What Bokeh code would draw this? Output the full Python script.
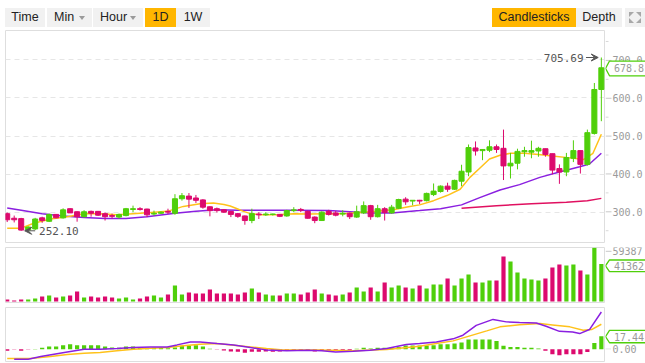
from bokeh.plotting import figure
from bokeh.layouts import column, row
from bokeh.models import ColumnDataSource, Range1d, Div, Label, Arrow, VeeHead
from bokeh.embed import file_html
from bokeh.resources import INLINE
from bokeh.core.properties import value

GREEN = "#4fcf0a"
PINK = "#dc0a6e"
YELLOW = "#ffc21a"
PURPLE = "#8a1fe0"
CRIMSON = "#e01060"
AXIS_TXT = "#9a9a9a"
MONO = "DejaVu Sans Mono"
W = 645
LEFT_B = 5
AX_W = 40
PLOT_W = W - LEFT_B - AX_W

# ---------------- data ----------------
opens = [297, 285, 284, 254, 257, 286, 277, 295, 286, 310, 302, 289, 303, 303, 297, 292, 288, 292, 308, 310,
         309, 296, 298, 303, 298, 336, 343, 338, 333, 315, 310, 307, 303, 297, 291, 279, 296, 294, 295, 295,
         291, 305, 308, 303, 288, 279, 303, 299, 296, 298, 288, 299, 318, 289, 310, 299, 311, 335, 330, 332,
         331, 347, 355, 369, 361, 382, 406, 469, 462, 463, 472, 468, 422, 429, 459, 458, 461, 467, 454, 415,
         406, 442, 462, 426, 507, 622]
highs = [300, 292, 286, 264, 286, 289, 297, 296, 311, 311, 303, 306, 305, 304, 300, 297, 297, 312, 318, 314,
         310, 305, 303, 310, 348, 351, 351, 346, 335, 316, 313, 309, 304, 299, 292, 310, 301, 301, 297, 296,
         307, 314, 312, 305, 290, 303, 307, 304, 306, 300, 318, 329, 320, 320, 314, 320, 336, 340, 332, 333,
         352, 376, 371, 378, 386, 425, 478, 486, 466, 489, 478, 517, 456, 467, 472, 488, 472, 467, 454, 426,
         456, 489, 462, 517, 639, 705.69]
lows = [275, 274, 252.1, 253, 254, 273, 275, 285, 284, 300, 276, 287, 289, 291, 279, 284, 284, 290, 301, 305,
        288, 292, 296, 296, 294, 331, 312, 325, 310, 290, 300, 299, 288, 286, 268, 272, 283, 291, 292, 288,
        289, 301, 301, 284, 272, 278, 292, 290, 290, 283, 286, 296, 281, 287, 279, 297, 309, 320, 319, 322,
        329, 343, 352, 354, 359, 369, 395, 449, 437, 458, 456, 385, 389, 413, 446, 442, 446, 446, 400, 375,
        395, 432, 402, 423, 504, 539]
closes = [281, 281, 254, 262, 283, 279, 295, 286, 307, 299, 289, 302, 298, 293, 289, 290, 295, 310, 310, 308,
          294, 298, 301, 301, 336, 344, 335, 332, 314, 305, 305, 301, 295, 290, 279, 297, 294, 296, 296, 290,
          305, 307, 306, 285, 279, 301, 295, 293, 298, 289, 302, 318, 289, 310, 300, 314, 334, 328, 332, 330,
          350, 356, 369, 361, 384, 408, 470, 461, 465, 472, 465, 422, 429, 460, 462, 462, 468, 452, 411, 406,
          444, 462, 426, 509, 622, 678.8]
volumes = [2150, 1100, 2250, 2200, 3300, 5450, 6600, 4350, 5500, 6650, 11050, 4400, 5500, 4450, 5450, 4400,
           3300, 4350, 2250, 3300, 5500, 6600, 4400, 7700, 17700, 7750, 9950, 8850, 8800, 13300, 8850, 8900,
           8850, 7700, 9950, 14400, 9950, 7700, 6600, 6650, 8850, 8800, 7700, 9950, 13300, 8850, 7700, 6600,
           7750, 9950, 15500, 11000, 15550, 11000, 21000, 15500, 17700, 15450, 14400, 17700, 14400, 18800,
           18850, 25400, 17700, 25450, 29900, 21000, 21050, 23200, 23250, 49800, 44200, 32100, 25400, 24300,
           23200, 25400, 37600, 40900, 39800, 40950, 34300, 29900, 59387, 41362]
macd_hist = [-2.0, -0.5, -2.0, -0.5, 0.3, 2.0, 3.5, 3.5, 5.4, 6.7, 5.4, 5.4, 5.4, 5.4, 3.5, 2.2, 1.8, 3.5, 3.5, 2.2,
             1.8, 1.8, 1.8, 1.3, 2.2, 4.5, 4.5, 5.4, 3.5, 0.5, -0.5, -1.8, -3.1, -3.5, -4.9, -3.5, -3.5, -3.1, -3.5, -3.1,
             -2.2, -2.2, -1.8, -2.2, -3.1, -2.5, -2.5, -2.5, -2.5, -2.5, 0.5, 1.8, 0.9, 1.8, 1.8, 2.2, 3.1, 4.9, 4.9, 4.9,
             4.9, 5.4, 6.7, 6.7, 7.6, 8.9, 13.0, 13.0, 13.0, 13.0, 11.0, 4.5, 3.1, 3.1, 1.8, 1.8, 0.9, -2.2, -6.7, -8.0,
             -6.7, -6.7, -6.7, -3.6, 8.5, 17.44]

ma_fast_x = [0, 2, 3.8, 6.2, 8.6, 11, 13.3, 15.7, 18, 20.5, 22.9, 25.2, 27.6, 29.5, 31, 31.9, 32.9, 33.8, 34.8,
             36.2, 38.6, 41, 43.3, 45.7, 48.1, 50.5, 52.9, 55.2, 57.6, 59, 61, 63, 64.8, 66.2, 67.6, 69, 70.5,
             72, 74, 76, 78, 80.5, 82.5, 83.8, 85]
ma_fast_y = [259, 259, 272, 283, 289, 297, 297, 294, 297, 300, 303, 316, 323, 325, 321, 317, 310, 303, 297,
             294, 294, 297, 296, 297, 297, 300, 303, 307, 316, 320, 331, 345, 361, 392, 416, 440, 450,
             455, 455, 452, 448, 443, 439, 455, 505]
ma_slow_x = [0, 2, 5, 8, 11, 14, 17, 20, 24, 27, 30, 33, 40, 46, 49, 52, 55, 57, 59, 62, 65, 67.6, 70.5,
             73.3, 76.2, 79, 81.9, 83.3, 85]
ma_slow_y = [312, 306, 297, 291, 287, 284, 284, 289, 298, 303, 307, 306, 306, 305, 302, 299, 299, 302, 305,
             310, 320, 339, 359, 373, 392, 406, 420, 427, 455]
ma_long_x = [65, 70, 75, 80, 83, 85]
ma_long_y = [311, 318, 323, 327, 331, 337]

dif_x = [1, 3, 4.8, 6.7, 8.6, 11, 13.3, 15.7, 18, 20.5, 22.9, 24.3, 26.2, 27.6, 30, 32.4, 34.8, 37, 40, 43,
         45, 47, 49.5, 51.9, 54.3, 57.1, 59, 61.4, 63.8, 65.2, 67.1, 69.5, 71.4, 73.3, 75.7, 77.1, 79, 80.9,
         81.9, 83.3, 85]
dif_y = [-13.4, -13.4, -9.8, -6.7, -3.6, 0.0, 0.0, 0.9, 2.2, 3.1, 3.1, 5.8, 9.8, 9.8, 7.6, 5.8, 2.2, -0.9,
         -2.2, -1.5, -2.2, -3.6, -2.7, -1.3, 0.9, 6.3, 7.6, 9.8, 13.9, 18.8, 32.0, 40.0, 36.7, 35.8, 35.3,
         30.8, 24.0, 23.2, 21.0, 26.4, 50.0]
dea_x = [0, 3.3, 6.2, 8.6, 11, 13.3, 15.7, 18.1, 20.5, 22.9, 25.2, 27.6, 30, 32.4, 34.8, 37.1, 39.5, 41.9,
         44.3, 49.5, 54.3, 59, 61.4, 63.8, 66.2, 68.6, 70.5, 73.3, 76.2, 78, 80.5, 82.4, 83.6, 85]
dea_y = [-12.5, -12.5, -9.8, -7.2, -5.4, -4.5, -2.2, 0.0, 1.3, 2.2, 4.5, 6.7, 7.6, 5.4, 3.1, 0.9, -0.9, -0.9,
         -0.9, -2.2, -0.4, 4.0, 7.6, 11.2, 17.9, 24.6, 30.0, 33.0, 34.4, 32.6, 30.0, 25.5, 26.4, 33.5]

# axis ticks
price_ticks = [300, 400, 500, 600, 700]
price_labels = ["300.0", "400.0", "500.0", "600.0", "700.0"]
price_minor = [250, 350, 450, 550, 650, 750]
macd_ticks = [0]
macd_labels = ["0.00"]

# toolbar buttons
btn_labels = ["Time", "Min", "Hour", "1D", "1W", "Candlesticks", "Depth"]
btn_left = [5, 47, 93, 145, 176, 492, 576]
btn_width = [40, 45, 50, 31, 34, 84, 46]
btn_active = [False, False, False, True, False, True, False]
btn_dropdown = [False, True, True, False, False, False, False]

# ---------------- toolbar (HTML) ----------------
spans = []
for lab, lft, wd, act, dd in zip(btn_labels, btn_left, btn_width, btn_active, btn_dropdown):
    bg = "#ffb600" if act else "#f1f1f1"
    if dd:
        inner = (f'<span style="position:absolute;left:7px;top:0">{lab}</span>'
                 f'<span style="position:absolute;right:7px;top:8px;width:0;height:0;'
                 f'border-left:3px solid transparent;border-right:3px solid transparent;'
                 f'border-top:4px solid #9a9a9a"></span>')
        spans.append(f'<div style="position:absolute;left:{lft}px;top:8px;width:{wd}px;height:19px;'
                     f'background:{bg};line-height:19px">{inner}</div>')
    else:
        spans.append(f'<div style="position:absolute;left:{lft}px;top:8px;width:{wd}px;height:19px;'
                     f'background:{bg};line-height:19px;text-align:center">{lab}</div>')
icon = ('<svg width="20" height="19" style="position:absolute;left:625px;top:8px" viewBox="0 0 20 19">'
        '<rect x="0" y="0" width="20" height="19" fill="#f1f1f1"/>'
        '<polygon points="4,4 9,4 4,9" fill="#a8a8a8"/><polygon points="16,4 11,4 16,9" fill="#a8a8a8"/>'
        '<polygon points="4,15 9,15 4,10" fill="#a8a8a8"/><polygon points="16,15 11,15 16,10" fill="#a8a8a8"/>'
        '</svg>')
html = ('<div style="position:relative;width:645px;height:29px;font-family:\'Liberation Sans\',Arial,sans-serif;'
        'font-size:12.5px;color:#222222">' + "".join(spans) + icon + '</div>')
tb = Div(text=html, width=W, height=29, margin=(0, 0, 0, 0))

# ---------------- charts ----------------
n = len(closes)
step = 6.99
xr = Range1d(-(6.7 - LEFT_B) / step, (LEFT_B + PLOT_W - 6.7) / step)


def panel(height, y0, y1, top, bottom):
    f = figure(width=LEFT_B + PLOT_W, height=height, x_range=xr, y_range=Range1d(y0, y1),
               output_backend="svg", toolbar_location=None, x_axis_location=None,
               y_axis_location=None, min_border_left=LEFT_B, min_border_right=0,
               min_border_top=top, min_border_bottom=bottom, background_fill_color="white",
               border_fill_color="white", outline_line_color="#dedede")
    f.xgrid.visible = False
    f.ygrid.visible = False
    # right-hand price scale: same scale, frame widened by the borders so labels are not cut
    per_px = (y1 - y0) / (height - top - bottom)
    a = figure(width=AX_W, height=height, x_range=Range1d(0, AX_W),
               y_range=Range1d(y0 - bottom * per_px, y1 + top * per_px),
               output_backend="svg", toolbar_location=None, x_axis_location=None,
               y_axis_location=None, min_border=0, outline_line_color=None,
               background_fill_color="white", border_fill_color="white")
    a.grid.visible = False
    return f, a


def draw_scale(a, ticks, labels, minor=None, dash="solid"):
    a.segment(x0=0, y0=ticks, x1=6, y1=ticks, line_color="#c8c8c8", line_width=1, line_dash=dash)
    if minor:
        a.segment(x0=0, y0=minor, x1=3, y1=minor, line_color="#d8d8d8", line_width=1)
    a.text(x=7, y=ticks, text=labels, text_baseline="middle", text_align="left",
           text_font=value(MONO), text_font_size=value("10px"), text_color=AXIS_TXT)


def draw_tag(a, yv, txt, half):
    a.patch(x=[0, 4, AX_W + 2, AX_W + 2, 4], y=[yv, yv + half, yv + half, yv - half, yv - half],
            fill_color="white", line_color=GREEN, line_width=1.3)
    a.text(x=[8.5], y=[yv], text=[txt], text_baseline="middle", text_align="left",
           text_font=value(MONO), text_font_size=value("10px"), text_color=AXIS_TXT)


idx = list(range(n))
colors = [GREEN if c >= o else PINK for o, c in zip(opens, closes)]
src = ColumnDataSource(dict(x=idx, o=opens, h=highs, l=lows, c=closes,
                            top=[max(o, c) for o, c in zip(opens, closes)],
                            bot=[min(o, c) for o, c in zip(opens, closes)],
                            vol=volumes, hist=macd_hist, color=colors,
                            hcolor=[GREEN if v >= 0 else PINK for v in macd_hist]))

# main candles
p, pa = panel(214, 221.5, 776.4, 1, 1)
p.ygrid.visible = True
p.ygrid.ticker = price_ticks
p.ygrid.grid_line_color = "#e6e6e6"
p.ygrid.grid_line_dash = "5 4"
p.line(ma_long_x, ma_long_y, line_color=CRIMSON, line_width=1.5)
p.line(ma_slow_x, ma_slow_y, line_color=PURPLE, line_width=1.5)
p.line(ma_fast_x, ma_fast_y, line_color=YELLOW, line_width=1.5)
p.segment(x0="x", y0="h", x1="x", y1="l", line_color="color", line_width=1, source=src)
p.vbar(x="x", width=0.72, top="top", bottom="bot", fill_color="color", line_color="color",
       line_width=1, source=src)

hi_i = max(idx, key=lambda i: highs[i])
lo_i = min(idx, key=lambda i: lows[i])
p.add_layout(Arrow(end=VeeHead(size=7, line_color="#555555", fill_color="#555555"),
                   x_start=hi_i - 2.2, y_start=highs[hi_i], x_end=hi_i - 0.45, y_end=highs[hi_i],
                   line_color="#555555", line_width=1))
p.add_layout(Label(x=hi_i - 2.55, y=highs[hi_i], text=f"{highs[hi_i]:.2f}", text_align="right",
                   text_baseline="middle", text_font=MONO, text_font_size="11px", text_color="#555555"))
p.add_layout(Arrow(end=VeeHead(size=7, line_color="#555555", fill_color="#555555"),
                   x_start=lo_i + 2.0, y_start=lows[lo_i], x_end=lo_i + 0.5, y_end=lows[lo_i],
                   line_color="#555555", line_width=1))
p.add_layout(Label(x=lo_i + 2.55, y=lows[lo_i], text=f"{lows[lo_i]:.2f}", text_align="left",
                   text_baseline="middle", text_font=MONO, text_font_size="11px", text_color="#555555"))
draw_scale(pa, price_ticks, price_labels, price_minor)
draw_tag(pa, closes[-1], f"{closes[-1]:.1f}", 19.5)

# volume
vmax = max(volumes)
pv, pva = panel(62, -1100, 59700, 4, 3)
pv.vbar(x="x", width=0.6, top="vol", bottom=0, fill_color="color", line_color=None, source=src)
draw_scale(pva, [vmax], [f"{vmax}"])
draw_tag(pva, volumes[-1], f"{volumes[-1]}", 7200)

# MACD
pm, pma = panel(57, -16.5, 56.0, 2, 1)
pm.vbar(x="x", width=0.6, top="hist", bottom=0, fill_color="hcolor", line_color=None, source=src)
pm.line(dea_x, dea_y, line_color=YELLOW, line_width=1.5)
pm.line(dif_x, dif_y, line_color=PURPLE, line_width=1.5)
draw_scale(pma, macd_ticks, macd_labels, dash="1 1")
draw_tag(pma, macd_hist[-1], f"{macd_hist[-1]:.2f}", 8.7)

layout = column(tb, row(p, pa, spacing=0), row(pv, pva, spacing=0), row(pm, pma, spacing=0), spacing=0)
open("out.html", "w").write(file_html(layout, INLINE))
